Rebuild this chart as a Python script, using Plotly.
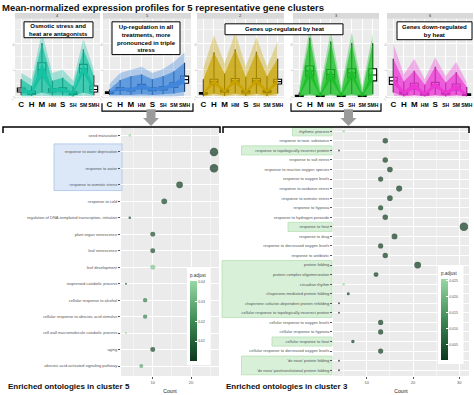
import plotly.graph_objects as go

W, H = 474, 395
FONT = "Liberation Sans, Arial, sans-serif"

# ---------------- data: top panels (expression profiles) ----------------
cats = ["C", "H", "M", "HM", "S", "SH", "SM", "SMH"]
cluster_ids = ["4", "5", "2", "3", "6"]

# cluster 4 (teal)
c4_mn = [0.0, 0.0, 0.1, 0.0, 0.0, 0.0, 0.1, 0.0]
c4_lo = [0.15, 0.1, 0.5, 0.15, 0.15, 0.05, 0.5, 0.15]
c4_q1 = [0.58, 0.3, 2.6, 0.58, 0.6, 0.25, 3.0, 0.58]
c4_med = [0.84, 0.45, 3.45, 0.8, 0.85, 0.4, 3.55, 0.9]
c4_q3 = [1.09, 0.7, 4.3, 1.0, 1.1, 0.6, 4.1, 1.35]
c4_hi = [2.2, 1.34, 6.8, 2.0, 2.4, 1.3, 6.0, 2.7]
c4_mx = [3.0, 2.2, 8.2, 3.0, 3.4, 2.0, 7.4, 3.4]

# cluster 5 (blue)
c5_mn = [0.0, 0.0, 0.0, 0.0, 0.0, 0.0, 0.0, 0.1]
c5_lo = [0.2, 0.2, 0.2, 0.3, 0.2, 0.3, 0.4, 0.6]
c5_q1 = [0.4, 0.8, 0.7, 1.0, 0.75, 0.85, 1.15, 1.7]
c5_med = [0.5, 0.95, 0.9, 1.3, 0.95, 1.05, 1.45, 2.15]
c5_q3 = [0.6, 1.15, 1.05, 1.55, 1.1, 1.25, 1.75, 2.6]
c5_hi = [0.9, 2.1, 2.6, 2.8, 2.2, 2.6, 3.2, 4.3]
c5_mx = [1.6, 3.0, 3.4, 3.8, 3.0, 3.5, 4.4, 5.6]

# cluster 2 (gold)
c2_mn = [0.0, 0.1, 0.0, 0.1, 0.0, 0.1, 0.0, 0.1]
c2_lo = [0.05, 0.4, 0.1, 0.4, 0.1, 0.4, 0.1, 0.4]
c2_q1 = [0.3, 1.55, 0.55, 1.7, 0.45, 1.65, 0.5, 1.6]
c2_med = [0.4, 1.9, 0.7, 2.0, 0.6, 2.0, 0.65, 1.9]
c2_q3 = [0.5, 2.2, 0.85, 2.3, 0.75, 2.3, 0.8, 2.2]
c2_hi = [2.2, 5.6, 2.9, 6.0, 2.5, 5.7, 2.6, 4.8]
c2_mx = [3.6, 7.8, 4.2, 8.2, 3.8, 7.6, 3.8, 7.0]

# cluster 3 (green)
c3_mn = [0.0, 0.1, 0.0, 0.1, 0.0, 0.1, 0.0, 0.1]
c3_lo = [0.0, 0.3, 0.0, 0.3, 0.0, 0.3, 0.0, 0.3]
c3_q1 = [0.0, 2.6, 0.0, 2.2, 0.0, 2.4, 0.0, 2.0]
c3_med = [0.05, 3.25, 0.05, 2.8, 0.05, 3.0, 0.05, 2.75]
c3_q3 = [0.15, 3.9, 0.15, 3.45, 0.15, 3.55, 0.15, 3.55]
c3_hi = [0.5, 7.5, 0.5, 7.0, 0.5, 6.8, 0.5, 6.8]
c3_mx = [1.2, 8.8, 1.2, 8.4, 1.2, 8.2, 1.2, 8.0]

# cluster 6 (magenta)
c6_mn = [0.1, 0.0, 0.0, 0.0, 0.0, 0.0, 0.0, 0.0]
c6_lo = [0.5, 0.05, 0.2, 0.05, 0.2, 0.05, 0.2, 0.02]
c6_q1 = [1.55, 0.3, 0.95, 0.2, 1.15, 0.3, 0.85, 0.15]
c6_med = [2.0, 0.5, 1.3, 0.35, 1.5, 0.45, 1.2, 0.25]
c6_q3 = [2.45, 0.7, 1.7, 0.5, 1.8, 0.65, 1.6, 0.35]
c6_hi = [4.8, 1.9, 3.3, 1.5, 3.8, 1.8, 3.1, 1.2]
c6_mx = [6.8, 2.8, 4.8, 2.2, 5.0, 2.6, 4.4, 1.8]

box_texts = [
    "Osmotic stress and<br>heat are antagonists",
    "Up-regulation in all<br>treatments, more<br>pronounced in triple<br>stress",
    "Genes up-regulated by heat",
    "Genes down-regulated<br>by heat",
]

# ---------------- data: enrichment dot plots ----------------
left_terms = [
    "seed maturation",
    "response to water deprivation",
    "response to water",
    "response to osmotic stress",
    "response to cold",
    "regulation of DNA-templated transcription, initiation",
    "plant organ senescence",
    "leaf senescence",
    "leaf development",
    "isoprenoid catabolic process",
    "cellular response to alcohol",
    "cellular response to abscisic acid stimulus",
    "cell wall macromolecule catabolic process",
    "aging",
    "abscisic acid-activated signaling pathway",
]
left_count = [4, 26, 26, 17, 13, 4, 10, 10, 10, 3, 8, 8, 3, 10, 7]
left_padj = [0.0404, 0.0005, 0.0005, 0.002, 0.004, 0.004, 0.005, 0.005,
             0.035, 0.006, 0.017, 0.018, 0.039, 0.004, 0.027]

right_terms = [
    "rhythmic process",
    "response to toxic substance",
    "response to topologically incorrect protein",
    "response to salt stress",
    "response to reactive oxygen species",
    "response to oxygen levels",
    "response to oxidative stress",
    "response to osmotic stress",
    "response to hypoxia",
    "response to hydrogen peroxide",
    "response to heat",
    "response to drug",
    "response to decreased oxygen levels",
    "response to antibiotic",
    "protein folding",
    "protein complex oligomerization",
    "circadian rhythm",
    "chaperone-mediated protein folding",
    "chaperone cofactor-dependent protein refolding",
    "cellular response to topologically incorrect protein",
    "cellular response to oxygen levels",
    "cellular response to hypoxia",
    "cellular response to heat",
    "cellular response to decreased oxygen levels",
    "'de novo' protein folding",
    "'de novo' posttranslational protein folding",
]
right_count = [5, 14, 4, 14, 15, 13, 17, 15, 13, 14, 31, 16, 13, 14,
               21, 12, 5, 6, 4, 4, 13, 13, 7, 13, 4, 4]
right_padj = [0.0255, 0.0008, 0.0005, 0.0008, 0.0006, 0.0008, 0.0006, 0.0008,
              0.0008, 0.0008, 0.0001, 0.0008, 0.0008, 0.0008, 0.0002, 0.0008,
              0.025, 0.0005, 0.0005, 0.0005, 0.0008, 0.0008, 0.001, 0.0008,
              0.0005, 0.0005]

# ---------------- helpers ----------------
def px(x):
    return x / W


def py(y):
    return 1 - y / H


def rgba(hexc, a):
    hexc = hexc.lstrip("#")
    r, g, b = int(hexc[0:2], 16), int(hexc[2:4], 16), int(hexc[4:6], 16)
    return f"rgba({r},{g},{b},{a})"


fig = go.Figure()
shapes = []
annotations = []

panels = [
    dict(id="4", color="#16c2a2", data=(c4_mn, c4_lo, c4_q1, c4_med, c4_q3, c4_hi, c4_mx), x=(15, 100)),
    dict(id="5", color="#3f86dc", data=(c5_mn, c5_lo, c5_q1, c5_med, c5_q3, c5_hi, c5_mx), x=(103, 191)),
    dict(id="2", color="#c9a200", data=(c2_mn, c2_lo, c2_q1, c2_med, c2_q3, c2_hi, c2_mx), x=(197, 284)),
    dict(id="3", color="#1cc02a", data=(c3_mn, c3_lo, c3_q1, c3_med, c3_q3, c3_hi, c3_mx), x=(293, 379)),
    dict(id="6", color="#ec38d4", data=(c6_mn, c6_lo, c6_q1, c6_med, c6_q3, c6_hi, c6_mx), x=(387, 473)),
]

xs = list(range(1, len(cats) + 1))
big = {"C", "H", "M", "S"}
ticktext = [f"<b>{c}</b>" if c in big else f"<b><span style='font-size:5px'>{c}</span></b>" for c in cats]
TOP_Y0, TOP_Y1 = 19, 99

for i, p in enumerate(panels):
    n = i + 1
    xa = "x" if n == 1 else f"x{n}"
    ya = "y" if n == 1 else f"y{n}"
    mn, lo, q1, med, q3, hi, mx = p["data"]
    col = p["color"]
    for top, bot, a in [(mx, mn, 0.35), (hi, lo, 0.7), (q3, q1, 1.0)]:
        fig.add_trace(go.Scatter(
            x=xs + xs[::-1], y=list(top) + list(bot)[::-1], fill="toself",
            fillcolor=rgba(col, a), line=dict(width=0), mode="lines",
            hoverinfo="skip", xaxis=xa, yaxis=ya))
    fig.add_trace(go.Box(
        x=xs, q1=q1, median=med, q3=q3, lowerfence=lo, upperfence=hi,
        fillcolor="white", line=dict(color="black", width=1.1), width=0.75,
        whiskerwidth=0, boxpoints=False, xaxis=xa, yaxis=ya))
    xk = "xaxis" if n == 1 else f"xaxis{n}"
    yk = "yaxis" if n == 1 else f"yaxis{n}"
    fig.layout[xk] = dict(
        domain=[px(p["x"][0]), px(p["x"][1])], anchor=ya, range=[0.4, 8.6],
        tickvals=xs, ticktext=ticktext, tickangle=0, showgrid=True, gridcolor="white", gridwidth=0.8,
        tickfont=dict(size=8, color="black", family=FONT), ticks="", zeroline=False,
        showline=False, fixedrange=True)
    fig.layout[yk] = dict(
        domain=[py(TOP_Y1), py(TOP_Y0)], anchor=xa, range=[-0.22, 9.9],
        tickvals=[0, 3.4, 6.8], ticktext=["0.1", "1", "10"], tickangle=-60,
        tickfont=dict(size=3, color="#999999", family=FONT), showgrid=True,
        gridcolor="white", gridwidth=0.8, zeroline=False, ticks="",
        minor=dict(showgrid=True, gridcolor="#f6f6f6", gridwidth=0.4, tickvals=[1.7, 5.1, 8.5]),
        fixedrange=True)
    # strip
    shapes.append(dict(type="rect", xref="paper", yref="paper", x0=px(p["x"][0]), x1=px(p["x"][1]),
                       y0=py(TOP_Y0), y1=py(13), fillcolor="#d9d9d9", line=dict(width=0), layer="below"))
    annotations.append(dict(xref="paper", yref="paper", x=px((p["x"][0] + p["x"][1]) / 2), y=py(16),
                            xanchor="center", yanchor="middle",
                            text=p["id"], showarrow=False, font=dict(size=4, color="#333333", family=FONT)))

# text boxes on top panels
tb = [((24, 93), (22, 38)), ((112, 180), (22, 55)), ((225, 343), (24, 35)), ((397, 472), (22, 40))]
for t, ((x0, x1), (y0, y1)) in zip(box_texts, tb):
    shapes.append(dict(type="rect", xref="paper", yref="paper", x0=px(x0), x1=px(x1), y0=py(y1), y1=py(y0),
                       fillcolor="white", line=dict(color="black", width=1), layer="above"))
    annotations.append(dict(xref="paper", yref="paper", x=px((x0 + x1) / 2), y=py((y0 + y1) / 2),
                            xanchor="center", yanchor="middle",
                            text=f"<b>{t}</b>", showarrow=False, align="center",
                            font=dict(size=6, color="black", family=FONT)))

# brackets under selected clusters' labels
for (x0, x1) in [(102, 193), (291, 381)]:
    shapes.append(dict(type="path", xref="paper", yref="paper",
                       path=f"M {px(x0)},{py(104)} L {px(x0)},{py(112)} L {px(x1)},{py(112)} L {px(x1)},{py(104)}",
                       line=dict(color="black", width=1.2)))

# gray arrows
for cx in [151, 348.5]:
    pts = [(cx - 4.5, 110), (cx + 4.5, 110), (cx + 4.5, 119), (cx + 8, 119), (cx, 127), (cx - 8, 119), (cx - 4.5, 119)]
    path = "M " + " L ".join(f"{px(a)},{py(b)}" for a, b in pts) + " Z"
    shapes.append(dict(type="path", xref="paper", yref="paper", path=path,
                       fillcolor="#9b9b9b", line=dict(width=0)))

# big brackets
for (x0, x1) in [(3, 220), (223, 469)]:
    shapes.append(dict(type="path", xref="paper", yref="paper",
                       path=f"M {px(x0)},{py(134)} L {px(x0)},{py(128)} L {px(x1)},{py(128)} L {px(x1)},{py(134)}",
                       line=dict(color="black", width=1.5)))

# ---------------- dot plots ----------------
cscale = [[0, "#0d381d"], [0.5, "#3e8a55"], [1, "#97d8a4"]]


def sizes(counts, dmin=2.0, dmax=8.5):
    cmin, cmax = min(counts), max(counts)
    return [(dmin ** 2 + (dmax ** 2 - dmin ** 2) * (c - cmin) / (cmax - cmin)) ** 0.5 for c in counts]


DOT_Y0, DOT_Y1 = 126.5, 378.8

# left (cluster 5)
nL = len(left_terms)
ypos_L = list(range(nL, 0, -1))
fig.add_trace(go.Scatter(
    x=left_count, y=ypos_L, mode="markers", xaxis="x6", yaxis="y6",
    marker=dict(size=sizes(left_count), color=left_padj, colorscale=cscale, cmin=0.0002, cmax=0.0405,
                line=dict(width=0),
                colorbar=dict(x=px(187), xanchor="left", y=py(318), yanchor="middle",
                              len=98, lenmode="pixels", thickness=7, thicknessmode="pixels",
                              title=dict(text="p.adjust", side="top", font=dict(size=4.5, family=FONT, color="#333")),
                              tickvals=[0.01, 0.02, 0.03, 0.04], ticktext=["0.01", "0.02", "0.03", "0.04"],
                              tickfont=dict(size=3.5, family=FONT, color="#555"), ticks="inside", ticklen=2,
                              tickcolor="white", bgcolor="white", xpad=3, ypad=4, outlinewidth=0))))
fig.layout["xaxis6"] = dict(domain=[px(121), px(219)], anchor="y6", range=[1.7, 27.3],
                            tickvals=[10, 20], ticks="outside", ticklen=2, tickcolor="#555",
                            tickfont=dict(size=4, color="#555", family=FONT), showgrid=True, gridcolor="white",
                            gridwidth=0.8, minor=dict(showgrid=True, gridcolor="#f4f4f4", gridwidth=0.4, tickvals=[5, 15, 25]),
                            zeroline=False, title=dict(text="Count", font=dict(size=5, family=FONT, color="#222"), standoff=5),
                            fixedrange=True)
fig.layout["yaxis6"] = dict(domain=[py(DOT_Y1), py(DOT_Y0)], anchor="x6", range=[0.4, nL + 0.6],
                            tickvals=ypos_L, ticktext=left_terms, ticks="outside", ticklen=2, tickcolor="#555",
                            tickfont=dict(size=4, color="#555", family=FONT), showgrid=True, gridcolor="white",
                            gridwidth=0.8, zeroline=False, fixedrange=True)

# right (cluster 3)
nR = len(right_terms)
ypos_R = list(range(nR, 0, -1))
fig.add_trace(go.Scatter(
    x=right_count, y=ypos_R, mode="markers", xaxis="x7", yaxis="y7",
    marker=dict(size=sizes(right_count), color=right_padj, colorscale=cscale, cmin=0.0001, cmax=0.0255,
                line=dict(width=0),
                colorbar=dict(x=px(438), xanchor="left", y=py(317), yanchor="middle",
                              len=99, lenmode="pixels", thickness=7, thicknessmode="pixels",
                              title=dict(text="p.adjust", side="top", font=dict(size=4.5, family=FONT, color="#333")),
                              tickvals=[0.005, 0.010, 0.015, 0.020, 0.025],
                              ticktext=["0.005", "0.010", "0.015", "0.020", "0.025"],
                              tickfont=dict(size=3.5, family=FONT, color="#555"), ticks="inside", ticklen=2,
                              tickcolor="white", bgcolor="white", xpad=3, ypad=4, outlinewidth=0))))
fig.layout["xaxis7"] = dict(domain=[px(333), px(469)], anchor="y7", range=[2.7, 32.1],
                            tickvals=[10, 20, 30], ticks="outside", ticklen=2, tickcolor="#555",
                            tickfont=dict(size=4, color="#555", family=FONT), showgrid=True, gridcolor="white",
                            gridwidth=0.8, minor=dict(showgrid=True, gridcolor="#f4f4f4", gridwidth=0.4, tickvals=[5, 15, 25]),
                            zeroline=False, title=dict(text="Count", font=dict(size=5, family=FONT, color="#222"), standoff=5),
                            fixedrange=True)
fig.layout["yaxis7"] = dict(domain=[py(DOT_Y1), py(DOT_Y0)], anchor="x7", range=[0.4, nR + 0.6],
                            tickvals=ypos_R, ticktext=right_terms, ticks="outside", ticklen=2, tickcolor="#555",
                            tickfont=dict(size=4, color="#555", family=FONT), showgrid=True, gridcolor="white",
                            gridwidth=0.8, zeroline=False, fixedrange=True)


# highlight boxes behind labels
def rowy_R(k):
    return 132.3 + (k - 1) * 9.63


shapes.append(dict(type="rect", xref="paper", yref="paper", x0=px(54), x1=px(122), y0=py(192), y1=py(145),
                   fillcolor="#dce8f8", line=dict(color="#a8c3e8", width=0.8), layer="below"))
green_boxes = [(292.5, 1, 1), (241.5, 3, 3), (288, 11, 11), (222, 15, 20), (272, 23, 23), (241.5, 25, 26)]
for x0, r0, r1 in green_boxes:
    shapes.append(dict(type="rect", xref="paper", yref="paper", x0=px(x0), x1=px(332),
                       y0=py(rowy_R(r1) + 4.6), y1=py(rowy_R(r0) - 4.6),
                       fillcolor="#d8f0d8", line=dict(color="#b5e0b5", width=0.8), layer="below"))

# titles
annotations.append(dict(xref="paper", yref="paper", x=0, y=py(8), xanchor="left", yanchor="middle",
                        text="<b>Mean-normalized expression profiles for 5 representative gene clusters</b>",
                        showarrow=False, font=dict(size=9.5, color="#111", family=FONT)))
for x0, t in [(6, "Enriched ontologies in cluster 5"), (224, "Enriched ontologies in cluster 3")]:
    annotations.append(dict(xref="paper", yref="paper", x=px(x0), y=py(389), xanchor="left", yanchor="middle",
                            text=f"<b>{t}</b>", showarrow=False, font=dict(size=8, color="#111", family=FONT)))

fig.update_layout(width=W, height=H, margin=dict(l=0, r=0, t=0, b=0), paper_bgcolor="white",
                  plot_bgcolor="#ebebeb", showlegend=False, shapes=shapes, annotations=annotations,
                  font=dict(family=FONT))
fig.write_html("out.html", config={"displayModeBar": False},
               post_script="document.body.style.margin='0';document.body.style.padding='0';")
